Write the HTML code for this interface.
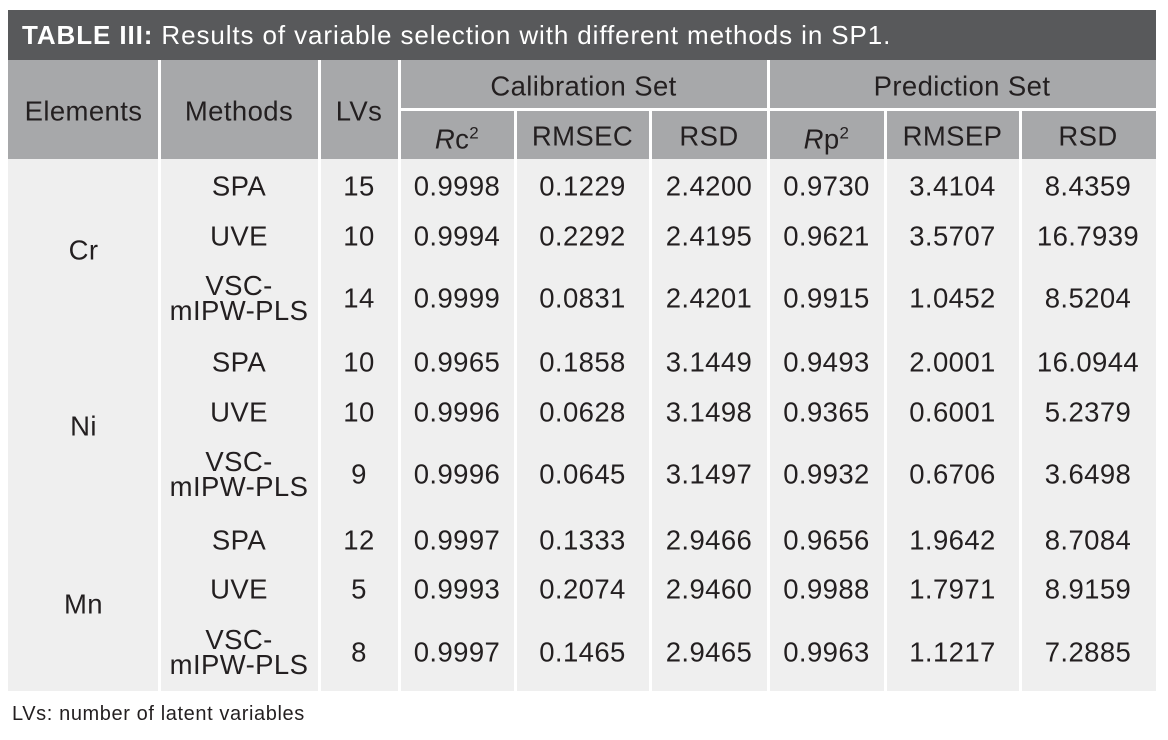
<!DOCTYPE html>
<html><head><meta charset="utf-8"><style>
body{margin:0;width:1168px;height:740px;background:#fff;font-family:"Liberation Sans",sans-serif;position:relative;overflow:hidden}
.t{position:absolute;left:8px;top:10px;width:1148px;height:50px;background:#58595b;color:#fff;font-size:26px;letter-spacing:0.9px;line-height:50px;padding-left:14px;box-sizing:border-box;white-space:nowrap}
.hd{position:absolute;left:8px;top:60px;width:1148px;height:99px;background:#a7a8aa}
.bd{position:absolute;left:8px;top:159px;width:1148px;height:532px;background:#efefef}
.v{position:absolute;width:3px;background:#fff}
.h{position:absolute;height:3px;background:#fff}
.c{position:absolute;text-align:center;color:#231f20;font-size:27.5px;letter-spacing:0.4px;line-height:25px;transform:translateY(-50%);white-space:nowrap}
.f{position:absolute;left:12px;top:703px;font-size:20px;letter-spacing:0.6px;color:#231f20}
</style></head><body>
<div class="t"><b>TABLE III:</b> Results of variable selection with different methods in SP1.</div>
<div class="hd"></div>
<div class="bd"></div>
<div id="lines"></div>
<div id="cells"></div>
<div class="f">LVs: number of latent variables</div>
<script>
const edges=[8,159,319,399,515,650,768,885,1020,1156];
const headers=["Elements","Methods","LVs"];
const subHeaders=["<i>R</i>c<sup style='font-size:17px'>2</sup>","RMSEC","RSD","<i>R</i>p<sup style='font-size:17px'>2</sup>","RMSEP","RSD"];
const elements=["Cr","Ni","Mn"];
const methods=["SPA","UVE","VSC-<br>mIPW-PLS"];
const rows=[
["15","0.9998","0.1229","2.4200","0.9730","3.4104","8.4359"],
["10","0.9994","0.2292","2.4195","0.9621","3.5707","16.7939"],
["14","0.9999","0.0831","2.4201","0.9915","1.0452","8.5204"],
["10","0.9965","0.1858","3.1449","0.9493","2.0001","16.0944"],
["10","0.9996","0.0628","3.1498","0.9365","0.6001","5.2379"],
["9","0.9996","0.0645","3.1497","0.9932","0.6706","3.6498"],
["12","0.9997","0.1333","2.9466","0.9656","1.9642","8.7084"],
["5","0.9993","0.2074","2.9460","0.9988","1.7971","8.9159"],
["8","0.9997","0.1465","2.9465","0.9963","1.1217","7.2885"]];
const rowY=[186,236,298,362,412,474,540,589,652];
const L=document.getElementById('lines'),C=document.getElementById('cells');
for(let i=1;i<edges.length-1;i++){const d=document.createElement('div');d.className='v';


const top=(i>=4&&i!==6)?110:60;d.style.left=(edges[i]-1)+'px';d.style.top=top+'px';d.style.height=(691-top)+'px';L.appendChild(d);}
const hl=document.createElement('div');hl.className='h';


hl.style.left='399px';hl.style.top='108px';hl.style.width='757px';L.appendChild(hl);
function cell(html,c0,c1,y,name){const d=document.createElement('div');d.className='c';


d.style.left=edges[c0]+'px';d.style.width=(edges[c1]-edges[c0])+'px';d.style.top=y+'px';d.innerHTML=html;C.appendChild(d);return d;}
headers.forEach((h,i)=>cell(h,i,i+1,111,'header-cell'));
cell('Calibration Set',3,6,86,'header-group');
cell('Prediction Set',6,9,86,'header-group');
subHeaders.forEach((h,i)=>cell(h,i+3,i+4,136,'subheader-cell'));
elements.forEach((e,g)=>cell(e,0,1,(rowY[g*3]+rowY[g*3+2])/2+8,'element-label'));
rows.forEach((r,i)=>{cell(methods[i%3],1,2,rowY[i],'method-cell');r.forEach((v,j)=>cell(v,j+2,j+3,rowY[i],'value-cell'));});
</script>
</body></html>
